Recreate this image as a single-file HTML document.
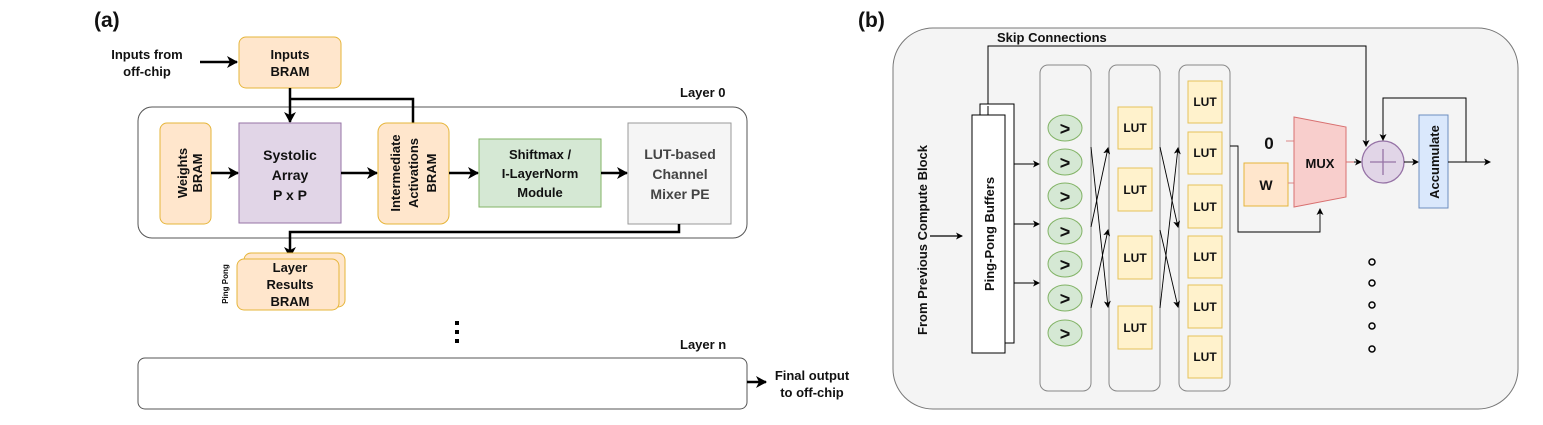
<!DOCTYPE html>
<html><head><meta charset="utf-8"><style>
html,body{margin:0;padding:0;background:#fff;}
svg{display:block;}
text{font-family:"Liberation Sans",sans-serif;font-weight:bold;fill:#111;}
</style></head><body>
<svg width="1543" height="425" viewBox="0 0 1543 425" xmlns="http://www.w3.org/2000/svg">
<defs>
<marker id="ah" markerWidth="12" markerHeight="12" refX="10" refY="6" orient="auto" markerUnits="userSpaceOnUse"><path d="M0,0 L11,6 L0,12 L3,6 z" fill="#000"/></marker>
<marker id="as" markerWidth="7" markerHeight="7" refX="6" refY="3.5" orient="auto" markerUnits="userSpaceOnUse"><path d="M0,0 L7,3.5 L0,7 L1.8,3.5 z" fill="#000"/></marker>
</defs>
<!-- Panel (a) -->
<text x="94" y="27" font-size="21">(a)</text>
<text x="147" y="59" font-size="13" text-anchor="middle">Inputs from</text>
<text x="147" y="76" font-size="13" text-anchor="middle">off-chip</text>
<line x1="200" y1="62" x2="237" y2="62" stroke="#000" stroke-width="2.5" marker-end="url(#ah)"/>
<rect x="239" y="37" width="102" height="51" rx="7" fill="#ffe6cc" stroke="#e6b53a"/>
<text x="290" y="59" font-size="13" text-anchor="middle">Inputs</text>
<text x="290" y="76" font-size="13" text-anchor="middle">BRAM</text>
<text x="680" y="97" font-size="13">Layer 0</text>
<rect x="138" y="107" width="609" height="131" rx="14" fill="#fff" stroke="#555"/>
<polyline points="290,88 290,122" fill="none" stroke="#000" stroke-width="2.5" marker-end="url(#ah)"/>
<polyline points="290,99 413,99 413,123" fill="none" stroke="#000" stroke-width="2.5"/>
<rect x="160" y="123" width="51" height="101" rx="7" fill="#ffe6cc" stroke="#e6b53a"/>
<text transform="translate(187,173) rotate(-90)" font-size="13" text-anchor="middle">Weights</text>
<text transform="translate(202,173) rotate(-90)" font-size="13" text-anchor="middle">BRAM</text>
<line x1="211" y1="173" x2="238" y2="173" stroke="#000" stroke-width="2.5" marker-end="url(#ah)"/>
<rect x="239" y="123" width="102" height="100" fill="#e1d5e7" stroke="#9673a6"/>
<text x="290" y="160" font-size="14" text-anchor="middle">Systolic</text>
<text x="290" y="180" font-size="14" text-anchor="middle">Array</text>
<text x="290" y="200" font-size="14" text-anchor="middle">P x P</text>
<line x1="341" y1="173" x2="377" y2="173" stroke="#000" stroke-width="2.5" marker-end="url(#ah)"/>
<rect x="378" y="123" width="71" height="101" rx="9" fill="#ffe6cc" stroke="#e6b53a"/>
<text transform="translate(400,173) rotate(-90)" font-size="13" text-anchor="middle">Intermediate</text>
<text transform="translate(418,173) rotate(-90)" font-size="13" text-anchor="middle">Activations</text>
<text transform="translate(436,173) rotate(-90)" font-size="13" text-anchor="middle">BRAM</text>
<line x1="449" y1="173" x2="478" y2="173" stroke="#000" stroke-width="2.5" marker-end="url(#ah)"/>
<rect x="479" y="139" width="122" height="68" fill="#d5e8d4" stroke="#82b366"/>
<text x="540" y="159" font-size="13" text-anchor="middle">Shiftmax /</text>
<text x="540" y="178" font-size="13" text-anchor="middle">I-LayerNorm</text>
<text x="540" y="197" font-size="13" text-anchor="middle">Module</text>
<line x1="601" y1="173" x2="627" y2="173" stroke="#000" stroke-width="2.5" marker-end="url(#ah)"/>
<rect x="628" y="123" width="103" height="101" fill="#f5f5f5" stroke="#999"/>
<text x="680" y="159" font-size="14" text-anchor="middle" style="fill:#444">LUT-based</text>
<text x="680" y="179" font-size="14" text-anchor="middle" style="fill:#444">Channel</text>
<text x="680" y="199" font-size="14" text-anchor="middle" style="fill:#444">Mixer PE</text>
<polyline points="679,224 679,232 290,232 290,257" fill="none" stroke="#000" stroke-width="2.5" marker-end="url(#ah)"/>
<rect x="244" y="253" width="101" height="54" rx="7" fill="#ffe6cc" stroke="#e6b53a"/>
<rect x="237" y="259" width="102" height="51" rx="7" fill="#ffe6cc" stroke="#e6b53a"/>
<text x="290" y="272" font-size="13" text-anchor="middle">Layer</text>
<text x="290" y="289" font-size="13" text-anchor="middle">Results</text>
<text x="290" y="306" font-size="13" text-anchor="middle">BRAM</text>
<text transform="translate(228,284) rotate(-90)" font-size="8" text-anchor="middle">Ping Pong</text>
<rect x="455" y="321" width="4" height="4" fill="#000"/>
<rect x="455" y="330" width="4" height="4" fill="#000"/>
<rect x="455" y="339" width="4" height="4" fill="#000"/>
<text x="680" y="349" font-size="13">Layer n</text>
<rect x="138" y="358" width="609" height="51" rx="7" fill="#fff" stroke="#555"/>
<line x1="747" y1="382" x2="766" y2="382" stroke="#000" stroke-width="2.5" marker-end="url(#ah)"/>
<text x="812" y="380" font-size="13" text-anchor="middle">Final output</text>
<text x="812" y="397" font-size="13" text-anchor="middle">to off-chip</text>

<!-- Panel (b) -->
<text x="858" y="27" font-size="21">(b)</text>
<rect x="893" y="28" width="625" height="381" rx="40" fill="#f4f4f4" stroke="#777"/>
<text x="997" y="42" font-size="13">Skip Connections</text>
<polyline points="988,106 988,46 1366,46 1366,146" fill="none" stroke="#000" stroke-width="1" marker-end="url(#as)"/>
<text transform="translate(927,240) rotate(-90)" font-size="13" text-anchor="middle">From Previous Compute Block</text>
<line x1="930" y1="236" x2="962" y2="236" stroke="#000" stroke-width="1.2" marker-end="url(#as)"/>
<rect x="980" y="104" width="34" height="239" fill="#fff" stroke="#000"/>
<rect x="972" y="115" width="33" height="238" fill="#fff" stroke="#000"/>
<line x1="988" y1="106" x2="988" y2="115" stroke="#000"/>
<text transform="translate(994,234) rotate(-90)" font-size="13" text-anchor="middle">Ping-Pong Buffers</text>
<line x1="1014" y1="164" x2="1039" y2="164" stroke="#000" marker-end="url(#as)"/>
<line x1="1014" y1="224" x2="1039" y2="224" stroke="#000" marker-end="url(#as)"/>
<line x1="1014" y1="283" x2="1039" y2="283" stroke="#000" marker-end="url(#as)"/>
<rect x="1040" y="65" width="51" height="326" rx="8" fill="#f4f4f4" stroke="#888"/>
<rect x="1109" y="65" width="51" height="326" rx="8" fill="#f4f4f4" stroke="#888"/>
<rect x="1179" y="65" width="51" height="326" rx="8" fill="#f4f4f4" stroke="#888"/>
<g fill="#d5e8d4" stroke="#82b366">
<ellipse cx="1065" cy="128" rx="17" ry="13"/><ellipse cx="1065" cy="162" rx="17" ry="13"/><ellipse cx="1065" cy="196" rx="17" ry="13"/><ellipse cx="1065" cy="231" rx="17" ry="13"/><ellipse cx="1065" cy="264" rx="17" ry="13"/><ellipse cx="1065" cy="298" rx="17" ry="13"/><ellipse cx="1065" cy="333" rx="17" ry="13"/>
</g>
<g font-size="18" text-anchor="middle">
<text x="1065" y="135">&gt;</text><text x="1065" y="169">&gt;</text><text x="1065" y="203">&gt;</text><text x="1065" y="238">&gt;</text><text x="1065" y="271">&gt;</text><text x="1065" y="305">&gt;</text><text x="1065" y="340">&gt;</text>
</g>
<g fill="#fff2cc" stroke="#e6c25a">
<rect x="1118" y="107" width="34" height="42"/><rect x="1118" y="168" width="34" height="43"/><rect x="1118" y="236" width="34" height="43"/><rect x="1118" y="306" width="34" height="43"/>
<rect x="1188" y="81" width="34" height="42"/><rect x="1188" y="132" width="34" height="42"/><rect x="1188" y="185" width="34" height="43"/><rect x="1188" y="236" width="34" height="42"/><rect x="1188" y="285" width="34" height="43"/><rect x="1188" y="336" width="34" height="42"/>
</g>
<g font-size="12" text-anchor="middle">
<text x="1135" y="132">LUT</text><text x="1135" y="194">LUT</text><text x="1135" y="262">LUT</text><text x="1135" y="332">LUT</text>
<text x="1205" y="106">LUT</text><text x="1205" y="157">LUT</text><text x="1205" y="211">LUT</text><text x="1205" y="261">LUT</text><text x="1205" y="311">LUT</text><text x="1205" y="361">LUT</text>
</g>
<g stroke="#000" stroke-width="0.9" fill="none">
<line x1="1091" y1="147" x2="1108" y2="307" marker-end="url(#as)"/>
<line x1="1091" y1="227" x2="1108" y2="148" marker-end="url(#as)"/>
<line x1="1091" y1="308" x2="1108" y2="230" marker-end="url(#as)"/>
<line x1="1160" y1="147" x2="1178" y2="227" marker-end="url(#as)"/>
<line x1="1160" y1="230" x2="1178" y2="307" marker-end="url(#as)"/>
<line x1="1160" y1="308" x2="1178" y2="148" marker-end="url(#as)"/>
<polyline points="1230,146 1238,146 1238,232 1320,232 1320,209" marker-end="url(#as)"/>
</g>
<text x="1269" y="149" font-size="17" text-anchor="middle">0</text>
<line x1="1286" y1="141" x2="1294" y2="141" stroke="#d88"/>
<rect x="1244" y="163" width="44" height="43" fill="#ffe6cc" stroke="#e6b53a"/>
<text x="1266" y="190" font-size="14" text-anchor="middle">W</text>
<line x1="1288" y1="183" x2="1294" y2="183" stroke="#d88"/>
<polygon points="1294,117 1346,127 1346,197 1294,207" fill="#f8cecc" stroke="#d87070"/>
<text x="1320" y="168" font-size="13" text-anchor="middle">MUX</text>
<line x1="1346" y1="162" x2="1361" y2="162" stroke="#d87070"/>
<line x1="1354" y1="162" x2="1361" y2="162" stroke="#000" marker-end="url(#as)"/>
<circle cx="1383" cy="162" r="21" fill="#e1d5e7" stroke="#9673a6" stroke-width="1.3"/>
<line x1="1370" y1="162" x2="1396" y2="162" stroke="#9673a6" stroke-width="1.3"/>
<line x1="1383" y1="149" x2="1383" y2="175" stroke="#9673a6" stroke-width="1.3"/>
<line x1="1404" y1="162" x2="1418" y2="162" stroke="#000" marker-end="url(#as)"/>
<rect x="1419" y="115" width="29" height="93" fill="#dae8fc" stroke="#6c8ebf"/>
<text transform="translate(1439,162) rotate(-90)" font-size="13" text-anchor="middle">Accumulate</text>
<polyline points="1448,162 1490,162" fill="none" stroke="#000" marker-end="url(#as)"/>
<polyline points="1466,162 1466,98 1383,98 1383,140" fill="none" stroke="#000" marker-end="url(#as)"/>
<g fill="none" stroke="#000" stroke-width="1.5">
<circle cx="1372" cy="262" r="3"/><circle cx="1372" cy="283" r="3"/><circle cx="1372" cy="305" r="3"/><circle cx="1372" cy="326" r="3"/><circle cx="1372" cy="349" r="3"/>
</g>
</svg>
</body></html>
